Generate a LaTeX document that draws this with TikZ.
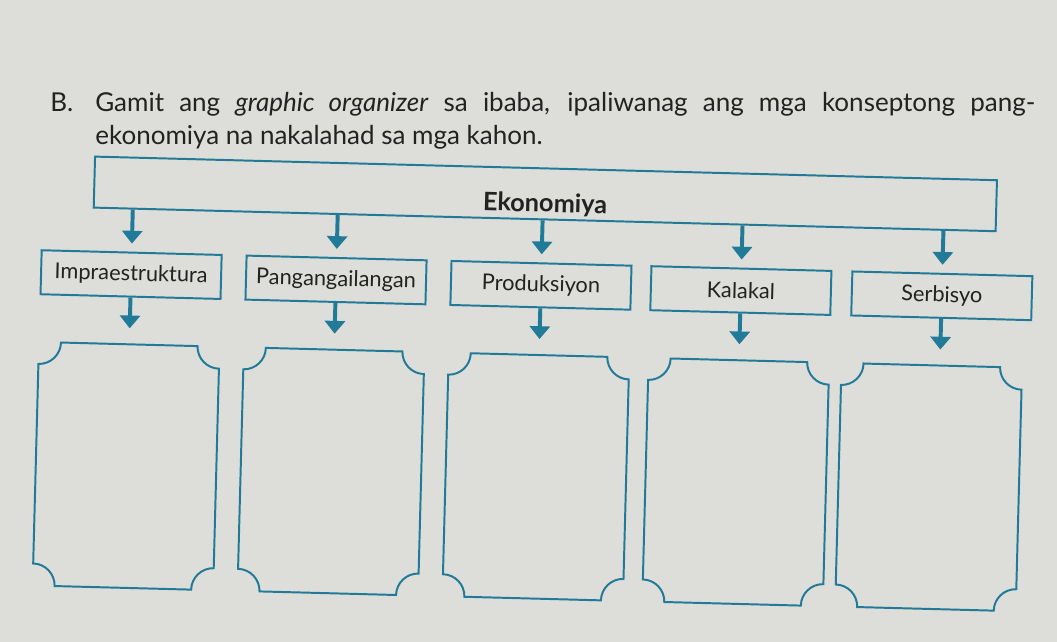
\documentclass[tikz,border=0pt]{standalone}
\usepackage{fontspec}
\setmainfont{Lato}
\usetikzlibrary{positioning, arrows.meta, calc}
\definecolor{orgblue}{RGB}{32,122,152}
\definecolor{pagegray}{RGB}{221,221,217}
\definecolor{inkgray}{RGB}{34,34,34}
\tikzstyle{heading} = [inner sep=0pt, text=inkgray, font=\fontsize{18.5}{23}\selectfont]
\tikzstyle{mainbox} = [rectangle, minimum width=22.55cm, minimum height=1.275cm, inner ysep=0pt, text height=0.9cm, text depth=0pt, draw=orgblue, line width=1.4pt, text=inkgray, font=\bfseries\fontsize{18}{20}\selectfont]
\tikzstyle{concept} = [rectangle, minimum width=4.5cm, minimum height=1.1cm, text centered, draw=orgblue, line width=1.4pt, text=inkgray, font=\fontsize{15.5}{18}\selectfont]
\tikzstyle{answer} = [rectangle, minimum width=4.5cm, minimum height=6.075cm]
\tikzstyle{frame} = [draw=orgblue, line width=1.4pt]
\tikzstyle{arrow} = [orgblue, line width=2.8pt, -{Triangle[width=0.5cm, length=0.32cm]}]
\begin{document}
\begin{tikzpicture}[x=0.025cm, y=-0.025cm]

    \fill[pagegray] (0,0) rectangle (1057,642);
    \useasboundingbox (0,0) rectangle (1057,642);

    % Question
    \node (qletter) [heading, anchor=base west] at (50,112) {B.};
    \node (qline1) [heading, anchor=base west] at (95,112) {\makebox[23.5cm][s]{Gamit ang \textit{graphic organizer} sa ibaba, ipaliwanag ang mga konseptong pang-}};
    \node (qline2) [heading, anchor=base west] at (95,145) {ekonomiya na nakalahad sa mga kahon.};

    \begin{scope}[rotate around={-1.5:(528,321)}, transform shape]

        % Nodes
        \node (ekonomiya) [mainbox] at (542,193.5) {Ekonomiya};
        \node (impra) [concept] at (130,285) {Impraestruktura};
        \node (pangangailangan) [concept] at (335,285) {Pangangailangan};
        \node (produksiyon) [concept] at (540,285) {Produksiyon};
        \node (kalakal) [concept] at (740,285) {Kalakal};
        \node (serbisyo) [concept] at (941,285) {Serbisyo};

        \node (impraBox) [answer, below=1.17cm of impra] {};
        \node (pangangailanganBox) [answer, below=1.17cm of pangangailangan] {};
        \node (produksiyonBox) [answer, below=1.17cm of produksiyon] {};
        \node (kalakalBox) [answer, below=1.17cm of kalakal] {};
        \node (serbisyoBox) [answer, below=1.17cm of serbisyo, xshift=-0.2cm] {};

        % Frames with cut corners
        \foreach \b in {impraBox, pangangailanganBox, produksiyonBox, kalakalBox, serbisyoBox}
            \draw [frame] ($(\b.north west)+(0.55cm,0)$) -- ($(\b.north east)+(-0.55cm,0)$)
                arc[start angle=180, end angle=270, radius=0.55cm]
                -- ($(\b.south east)+(0,0.55cm)$)
                arc[start angle=90, end angle=180, radius=0.55cm]
                -- ($(\b.south west)+(0.55cm,0)$)
                arc[start angle=0, end angle=90, radius=0.55cm]
                -- ($(\b.north west)+(0,-0.55cm)$)
                arc[start angle=270, end angle=360, radius=0.55cm] -- cycle;

        % Arrows
        \draw [arrow, shorten >=0.2cm] (ekonomiya.south -| impra.north) -- (impra.north);
        \draw [arrow, shorten >=0.2cm] (ekonomiya.south -| pangangailangan.north) -- (pangangailangan.north);
        \draw [arrow, shorten >=0.2cm] (ekonomiya.south -| produksiyon.north) -- (produksiyon.north);
        \draw [arrow, shorten >=0.2cm] (ekonomiya.south -| kalakal.north) -- (kalakal.north);
        \draw [arrow, shorten >=0.2cm] (ekonomiya.south -| serbisyo.north) -- (serbisyo.north);

        \draw [arrow, shorten >=0.4cm] (impra.south) -- (impra.south |- impraBox.north);
        \draw [arrow, shorten >=0.4cm] (pangangailangan.south) -- (pangangailangan.south |- pangangailanganBox.north);
        \draw [arrow, shorten >=0.4cm] (produksiyon.south) -- (produksiyon.south |- produksiyonBox.north);
        \draw [arrow, shorten >=0.4cm] (kalakal.south) -- (kalakal.south |- kalakalBox.north);
        \draw [arrow, shorten >=0.4cm] (serbisyo.south) -- (serbisyo.south |- serbisyoBox.north);

    \end{scope}

\end{tikzpicture}
\end{document}
